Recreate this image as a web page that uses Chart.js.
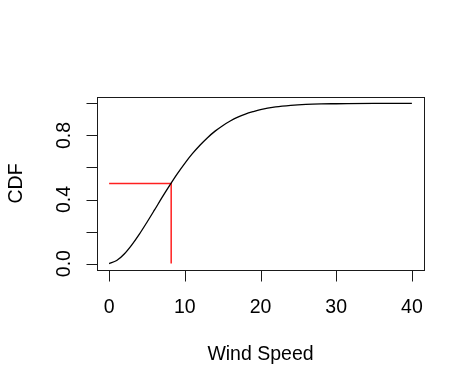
<!DOCTYPE html>
<html>
<head>
<meta charset="utf-8">
<script src="https://cdn.jsdelivr.net/npm/chart.js@4"></script>
<style>
  html, body { margin: 0; padding: 0; background: #fff; }
  #wrap { width: 474px; height: 391px; }
</style>
</head>
<body>
<div id="wrap"><canvas id="cdfChart" width="474" height="391"></canvas></div>
<script>
// wind speed grid and CDF values
const windSpeed = [0, 1, 2, 3, 4, 5, 6, 7, 8, 9, 10, 11, 12, 13, 14, 15, 16, 17, 18, 19, 20, 22, 24, 26, 28, 30, 35, 40];
const cdfValues = [0, 0.019, 0.060, 0.117, 0.184, 0.258, 0.335, 0.413, 0.488, 0.560, 0.626, 0.686, 0.739, 0.786, 0.827, 0.861, 0.890, 0.914, 0.933, 0.948, 0.961, 0.978, 0.988, 0.994, 0.997, 0.998, 1.0, 1.0];

// median marker (red lines)
const medianSpeed = 8.2;
const medianCdf = 0.5;

const xTicks = [0, 10, 20, 30, 40];
const xTickLabels = ['0', '10', '20', '30', '40'];
const yTicks = [0, 0.2, 0.4, 0.6, 0.8, 1.0];
const yTickLabels = ['0.0', '', '0.4', '', '0.8', ''];

const xTitle = 'Wind Speed';
const yTitle = 'CDF';

const FONT = '19.5px "Liberation Sans", Arial, sans-serif';

// draws the R style frame, outward ticks, labels and titles
const rAxes = {
    id: 'rAxes',
    afterDraw(chart) {
        const ctx = chart.ctx;
        const a = chart.chartArea;
        const xs = chart.scales.x;
        const ys = chart.scales.y;
        const tickLen = 11;

        ctx.save();
        ctx.strokeStyle = '#1a1a1a';
        ctx.lineWidth = 1;
        ctx.strokeRect(Math.round(a.left) + 0.5, Math.round(a.top) + 0.5,
            Math.round(a.right - a.left), Math.round(a.bottom - a.top));

        ctx.fillStyle = '#000';
        ctx.font = FONT;

        // x axis
        const xb = Math.round(a.bottom) + 0.5;
        ctx.beginPath();
        xTicks.forEach(v => {
            const px = Math.round(xs.getPixelForValue(v)) + 0.5;
            ctx.moveTo(px, xb);
            ctx.lineTo(px, xb + tickLen);
        });
        ctx.stroke();
        ctx.textAlign = 'center';
        ctx.textBaseline = 'alphabetic';
        xTicks.forEach((v, i) => {
            ctx.fillText(xTickLabels[i], xs.getPixelForValue(v), 313);
        });
        ctx.fillText(xTitle, (a.left + a.right) / 2, 360);

        // y axis
        const yl = Math.round(a.left) + 0.5;
        ctx.beginPath();
        yTicks.forEach(v => {
            const py = Math.round(ys.getPixelForValue(v)) + 0.5;
            ctx.moveTo(yl, py);
            ctx.lineTo(yl - tickLen, py);
        });
        ctx.stroke();
        yTicks.forEach((v, i) => {
            if (!yTickLabels[i]) return;
            ctx.save();
            ctx.translate(70, ys.getPixelForValue(v));
            ctx.rotate(-Math.PI / 2);
            ctx.fillText(yTickLabels[i], 0, 0);
            ctx.restore();
        });
        ctx.save();
        ctx.translate(22, (a.top + a.bottom) / 2);
        ctx.rotate(-Math.PI / 2);
        ctx.fillText(yTitle, 0, 0);
        ctx.restore();

        ctx.restore();
    }
};

const curve = windSpeed.map((x, i) => ({ x: x, y: cdfValues[i] }));
const medianPath = [
    { x: 0, y: medianCdf },
    { x: medianSpeed, y: medianCdf },
    { x: medianSpeed, y: 0 }
];

new Chart(document.getElementById('cdfChart'), {
    type: 'scatter',
    data: {
        datasets: [
            {
                data: curve,
                showLine: true,
                borderColor: '#000',
                borderWidth: 1.3,
                pointRadius: 0,
                cubicInterpolationMode: 'monotone',
                fill: false
            },
            {
                data: medianPath,
                showLine: true,
                borderColor: '#ff2020',
                borderWidth: 1.5,
                pointRadius: 0,
                tension: 0,
                fill: false
            }
        ]
    },
    options: {
        responsive: false,
        animation: false,
        events: [],
        layout: { padding: { left: 97, right: 50, top: 97, bottom: 121 } },
        scales: {
            x: { type: 'linear', min: -1.6, max: 41.6, display: false },
            y: { type: 'linear', min: -0.04, max: 1.04, display: false }
        },
        plugins: {
            legend: { display: false },
            tooltip: { enabled: false }
        }
    },
    plugins: [rAxes]
});
</script>
</body>
</html>
